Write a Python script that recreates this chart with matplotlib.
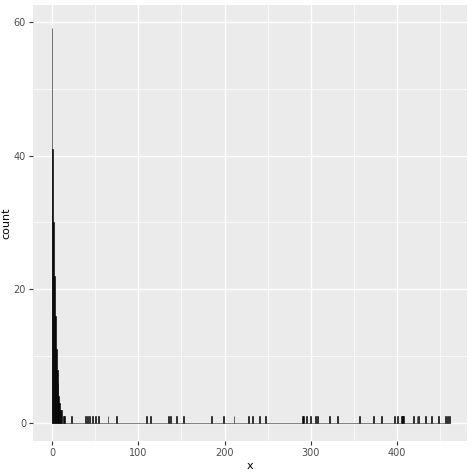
import matplotlib
matplotlib.use("Agg")
import matplotlib.pyplot as plt
import numpy as np

head_counts = [59, 41, 30, 22, 16, 11, 8, 6, 4, 3, 2, 1]
single_x = [11, 13, 15, 23, 39, 41, 43, 47, 50, 54, 65, 75, 110, 114, 135, 137, 144, 152,
            185, 199, 211, 228, 232, 241, 247, 290, 292, 295, 300, 305, 308, 322, 331, 356,
            373, 382, 397, 400, 405, 406, 407, 419, 423, 425, 433, 440, 448, 456, 458, 461]

nb = 462
counts = np.zeros(nb)
counts[:len(head_counts)] = head_counts
for v in single_x:
    counts[v] += 1
centers = np.arange(nb)

fig = plt.figure(figsize=(4.74, 4.74), dpi=100)
ax = fig.add_axes([33/474, 33/474, 434/474, 436/474])
ax.set_facecolor("#EBEBEB")
ax.bar(centers, counts, width=1, color="black", edgecolor="black", linewidth=0.4)
ax.set_xlim(-22, 481)
ax.set_ylim(-2.68, 62.5)
ax.set_xticks([0, 100, 200, 300, 400])
ax.set_yticks([0, 20, 40, 60])
ax.set_xticks([50, 150, 250, 350, 450], minor=True)
ax.set_yticks([10, 30, 50], minor=True)
ax.grid(which="major", color="white", linewidth=1.0)
ax.grid(which="minor", color="white", linewidth=0.5)
ax.set_axisbelow(True)
for s in ax.spines.values():
    s.set_visible(False)
ax.tick_params(which="major", labelsize=7, length=3, color="#333333", labelcolor="#4D4D4D", pad=2)
ax.tick_params(which="minor", length=0)
ax.set_xlabel("x", fontsize=8, labelpad=2)
ax.set_ylabel("count", fontsize=8, labelpad=2)
fig.savefig("out.png", dpi=100)
